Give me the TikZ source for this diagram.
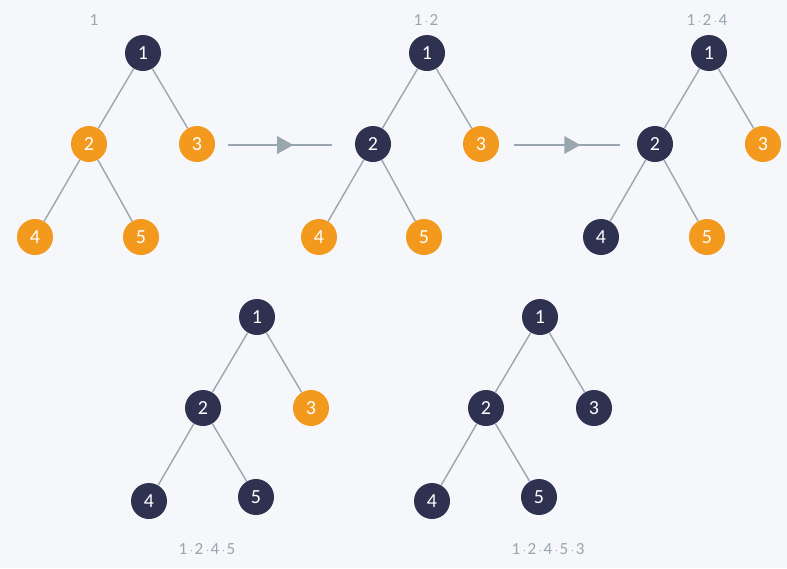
\documentclass[tikz,border=0pt]{standalone}
\usepackage{fontspec}
\setmainfont{Carlito}
\usetikzlibrary{decorations.markings,arrows.meta}
\definecolor{navy}{HTML}{2E3250}
\definecolor{orng}{HTML}{F39A1E}
\definecolor{lgray}{HTML}{9AA6AE}
\definecolor{bg}{HTML}{F5F7FA}
\tikzset{
  vis/.style={circle,fill=navy,text=white,minimum size=36pt,inner sep=0pt,font=\fontsize{20}{20}\selectfont},
  unv/.style={vis,fill=orng},
  edge/.style={draw=lgray,line width=1.4pt},
  bigarrow/.style={draw=lgray,line width=1.6pt,postaction={decorate},
    decoration={markings,mark=at position 0.55 with {\fill[lgray] (-8pt,-9pt)--(8pt,0)--(-8pt,9pt)--cycle;}}},
  seq/.style={text=lgray,font=\fontsize{17}{17}\selectfont,inner sep=0pt},
}
\newcommand{\sa}{\,\tikz[baseline=-0.5ex]{\draw[lgray,line width=1pt] (0,0.15)--(0.75,0.15); \fill[lgray] (0.28,0.05)--(0.46,0.15)--(0.28,0.25)--cycle;}\,}
\newcommand{\tree}[7]{% prefix, x, y, styles 1..5
  \node[#4] (#1a) at (#2,#3) {1};
  \node[#5] (#1b) at (#2-54,#3+91) {2};
  \node[#6] (#1c) at (#2+54,#3+91) {3};
  \node[#7] (#1d) at (#2-108,#3+184) {4};
}
\begin{document}
\begin{tikzpicture}[x=1pt,y=-1pt]
\fill[bg] (0,0) rectangle (787,568);
\useasboundingbox (0,0) rectangle (787,568);
% tree 1
\tree{p}{143}{53}{vis}{unv}{unv}{unv}
\node[unv] (pe) at (141,237) {5};
% tree 2
\tree{q}{427}{53}{vis}{vis}{unv}{unv}
\node[unv] (qe) at (424,237) {5};
% tree 3
\tree{r}{709}{53}{vis}{vis}{unv}{vis}
\node[unv] (re) at (707,237) {5};
% tree 4
\tree{s}{257}{317}{vis}{vis}{unv}{vis}
\node[vis] (se) at (256,497) {5};
% tree 5
\tree{t}{540}{317}{vis}{vis}{vis}{vis}
\node[vis] (te) at (539,497) {5};
\begin{scope}[on background layer/.style={}]
\foreach \p in {p,q,r,s,t}{
  \draw[edge] (\p a)--(\p b); \draw[edge] (\p a)--(\p c);
  \draw[edge] (\p b)--(\p d); \draw[edge] (\p b)--(\p e);
}
\end{scope}
\coordinate (a1s) at (228,145); \coordinate (a1e) at (332,145);
\coordinate (a2s) at (514,145); \coordinate (a2e) at (620,145);
\draw[bigarrow] (a1s)--(a1e);
\draw[bigarrow] (a2s)--(a2e);
\node[seq] (s1) at (94,20) {1};
\node[seq] (s2) at (426,20) {1\sa2};
\node[seq] (s3) at (707,20) {1\sa2\sa4};
\node[seq] (s4) at (207,549) {1\sa2\sa4\sa5};
\node[seq] (s5) at (548,549) {1\sa2\sa4\sa5\sa3};
\end{tikzpicture}
\end{document}
